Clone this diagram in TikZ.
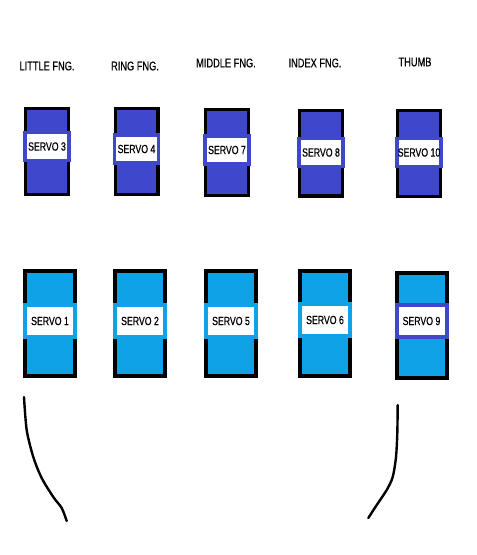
\documentclass[tikz,border=0pt]{standalone}
\usepackage{fontspec}
\setmainfont{Liberation Sans}
\newfontfamily\narrowfont[FakeStretch=0.74,FakeBold=0.6]{Liberation Sans}
\definecolor{darkblue}{HTML}{3F48CC}
\definecolor{lightblue}{HTML}{10A2E6}
\begin{document}
\begin{tikzpicture}[x=1pt,y=-1pt,
  topbox/.style={draw=black,line width=3.4pt,fill=darkblue,minimum width=42.6pt,minimum height=85.6pt,inner sep=0pt},
  botbox/.style={draw=black,line width=4pt,fill=lightblue,minimum width=50pt,minimum height=105pt,inner sep=0pt},
  toplabel/.style={draw=darkblue,line width=3.4pt,fill=white,minimum width=44pt,minimum height=28pt,inner sep=0pt,font=\narrowfont\fontsize{11.8}{14}\selectfont},
  botlabel/.style={draw=lightblue,line width=4pt,fill=white,minimum width=50pt,minimum height=32pt,inner sep=0pt,font=\narrowfont\fontsize{11.8}{14}\selectfont},
  title/.style={font=\narrowfont\fontsize{12.5}{14}\selectfont,inner sep=0pt},
  hand/.style={line width=2.4pt,line cap=round}]
\useasboundingbox (0,0) rectangle (477,555);
% titles
\node[title] (t1) at (47,66) {LITTLE FNG.};
\node[title] (t2) at (135,66) {RING FNG.};
\node[title] (t3) at (226,63) {MIDDLE FNG.};
\node[title] (t4) at (315,63) {INDEX FNG.};
\node[title] (t5) at (415,62) {THUMB};
% top row
\node[topbox] (b3) at (47,151.5) {};
\node[topbox] (b4) at (136.5,151.5) {};
\node[topbox] (b7) at (227,152.5) {};
\node[topbox] (b8) at (321,153) {};
\node[topbox] (b10) at (419,153.5) {};
\node[toplabel] (l3) at (47,146.5) {SERVO 3};
\node[toplabel] (l4) at (136.5,149) {SERVO 4};
\node[toplabel] (l7) at (227,150) {SERVO 7};
\node[toplabel] (l8) at (321,152.5) {SERVO 8};
\node[toplabel] (l10) at (419,152.5) {SERVO 10};
% bottom row
\node[botbox] (b1) at (50,323.5) {};
\node[botbox] (b2) at (140,323.5) {};
\node[botbox] (b5) at (231,323.5) {};
\node[botbox] (b6) at (325,323.5) {};
\node[botbox] (b9) at (422,325.5) {};
\node[botlabel] (l1) at (50,321) {SERVO 1};
\node[botlabel] (l2) at (140,321) {SERVO 2};
\node[botlabel] (l5) at (231,321) {SERVO 5};
\node[botlabel] (l6) at (325,320) {SERVO 6};
\node[botlabel,draw=darkblue] (l9) at (421.5,321) {SERVO 9};
% hand outline strokes
\draw[hand] plot[smooth] coordinates {(24,397) (26.7,430) (33.3,457) (41.7,478) (53.3,497) (61.7,508) (66.7,521)};
\draw[hand] plot[smooth] coordinates {(397.7,405) (397.3,433) (396,457) (392.7,477) (386.7,490) (376.7,505) (368.3,518)};
\end{tikzpicture}
\end{document}
